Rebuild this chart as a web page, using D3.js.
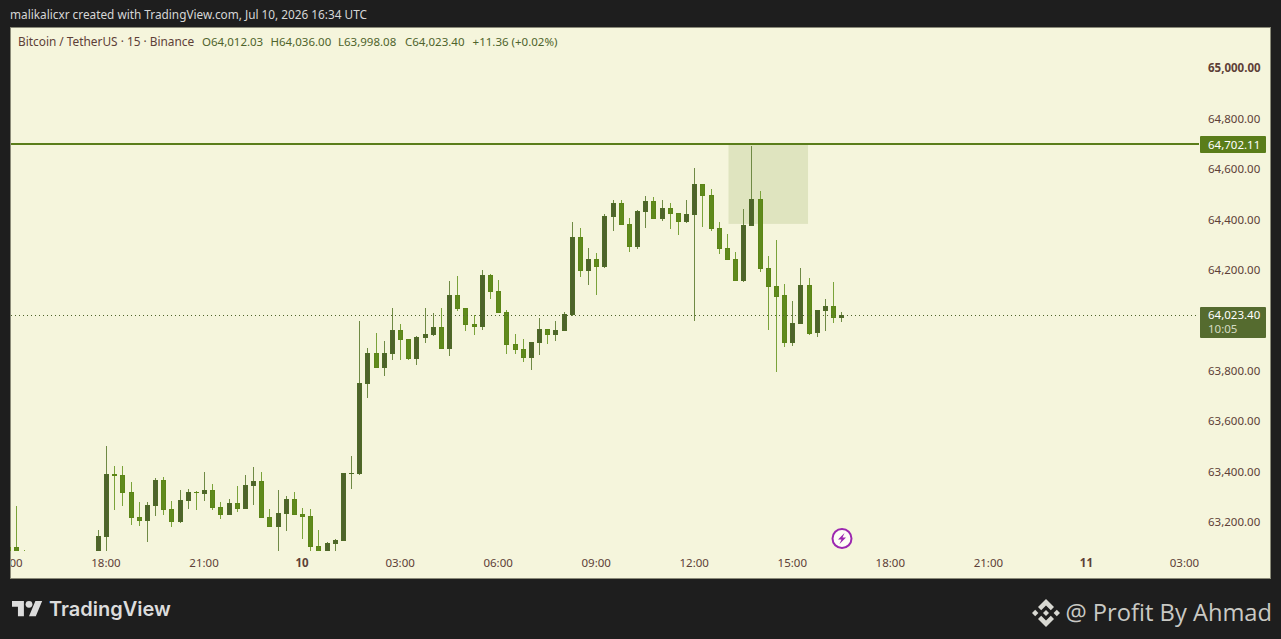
<!DOCTYPE html>
<html>
<head>
<meta charset="utf-8">
<title>BTCUSDT 15m</title>
<script src="https://cdn.jsdelivr.net/npm/d3@7"></script>
<style>
html, body { margin: 0; padding: 0; background: #1e1e1e; overflow: hidden; }
svg { display: block; }
text { font-family: "Noto Sans", sans-serif; }
</style>
</head>
<body>
<svg></svg>
<script>
// 15 minute bars from Jul 9 15:00 UTC. Bars 3-10 sit below the visible pane, so they stay null.
var opens = [63104,63104,63070,null,null,null,null,null,null,null,null,63080,63143,63393,63389,63322,63223,63207,63266,63369,
    63254,63203,63286,63322,63314,63330,63262,63231,63278,63254,63346,63366,63223,63183,63235,63294,63235,63227,63108,63080,
    63115,63127,63393,63393,63750,63874,63814,63870,63965,63929,63850,63933,63945,63977,63889,64104,64052,63989,63977,64183,
    64120,64036,63909,63889,63854,63913,63969,63945,63961,64024,64334,64199,64247,64215,64413,64469,64386,64294,64433,64477,
    64405,64449,64429,64394,64421,64544,64501,64370,64290,64247,64159,64378,64485,64211,64140,64104,63913,63989,64143,63953,
    64040,64060,64012.03];
var highs = [63104,63266,63092,null,null,null,null,null,null,null,null,63171,63504,63425,63425,63362,63282,63282,63377,63381,
    63286,63330,63334,63326,63401,63354,63282,63294,63346,63389,63421,63401,63254,63330,63306,63322,63258,63254,63171,63123,
    63135,63397,63465,64001,63893,63953,63921,64052,63989,63929,63941,64052,64032,64052,64159,64179,64052,64024,64203,64187,
    64163,64044,63949,63929,63917,64012,63969,64001,64036,64394,64370,64290,64271,64425,64481,64481,64409,64441,64497,64493,
    64481,64469,64429,64481,64608,64544,64525,64394,64346,64274,64445,64695,64517,64259,64322,64147,64080,64211,64171,64044,
    64088,64155,64036];
var lows = [63070,63052,63020,null,null,null,null,null,null,null,null,63068,63080,63250,63266,63191,63187,63123,63227,63231,
    63183,63199,63254,63250,63286,63250,63215,63231,63243,63254,63270,63219,63183,63088,63167,63231,63135,63080,63068,63072,
    63088,63127,63334,63389,63695,63814,63782,63846,63846,63846,63826,63913,63941,63889,63862,64040,63961,63945,63965,64088,
    64032,63870,63870,63838,63806,63866,63909,63921,63961,64020,64175,64144,64104,64211,64358,64382,64275,64286,64370,64405,
    64397,64366,64342,64390,64001,64374,64358,64267,64243,64159,64155,64378,64195,63965,63798,63897,63901,63989,63945,63937,
    63961,63993,63998.08];
var closes = [63080,63080,63040,null,null,null,null,null,null,null,null,63147,63393,63385,63318,63219,63207,63270,63369,63250,
    63203,63290,63322,63318,63330,63258,63231,63278,63254,63350,63366,63219,63183,63239,63294,63231,63223,63104,63080,63119,
    63131,63397,63397,63755,63874,63814,63874,63965,63925,63850,63937,63949,63977,63889,64104,64048,63985,63977,64183,64116,
    64032,63905,63886,63854,63917,63969,63945,63965,64028,64334,64199,64247,64215,64417,64469,64382,64294,64437,64477,64405,
    64449,64425,64394,64425,64544,64497,64366,64286,64243,64159,64382,64485,64207,64136,64096,63913,63993,64143,63949,64044,
    64060,64012,64023.40];

var priceTicks = [65000, 64800, 64600, 64400, 64200, 63800, 63600, 63400, 63200];
var timeTicks = ["2026-07-09T15:00Z","2026-07-09T18:00Z","2026-07-09T21:00Z","2026-07-10T00:00Z","2026-07-10T03:00Z",
    "2026-07-10T06:00Z","2026-07-10T09:00Z","2026-07-10T12:00Z","2026-07-10T15:00Z","2026-07-10T18:00Z",
    "2026-07-10T21:00Z","2026-07-11T00:00Z","2026-07-11T03:00Z"];
var timeLabels = ["15:00","18:00","21:00","10","03:00","06:00","09:00","12:00","15:00","18:00","21:00","11","03:00"];

var levelPrice = 64702.11;
var lastPrice = 64023.40;
var zoneTimes = ["2026-07-10T13:02Z", "2026-07-10T15:28Z"];
var zonePrices = [64702.11, 64386];

var legendLabels = ["Bitcoin / TetherUS · 15 · Binance", "O64,012.03", "H64,036.00", "L63,998.08", "C64,023.40", "+11.36 (+0.02%)"];
var legendColors = ["#5d4037", "#4e632b", "#4e632b", "#4e632b", "#4e632b", "#4e632b"];
var legendX = [18, 202, 270.5, 338, 405, 472.6];

var width = 1281, height = 639;
var upColor = "#4e632b", downColor = "#5f8a1c";
var upWick = "#6f8a45", downWick = "#7aa33a";

var svg = d3.select("svg")
    .attr("width", width)
    .attr("height", height);

var bars = opens.map(function (o, i) {
    return {
        time: new Date(Date.UTC(2026, 6, 9, 15, 15 * i)),
        open: o, high: highs[i], low: lows[i], close: closes[i]
    };
}).filter(function (d) { return d.open !== null; });

// one bar is 8.17px, 18:00 falls on pixel 106
var xScale = d3.scaleUtc()
    .domain([new Date("2026-07-09T18:00Z"), new Date("2026-07-11T03:00Z")])
    .range([106.5, 106.5 + 132 * 8.17]);

var yScale = d3.scaleLinear()
    .domain([65000, 63200])
    .range([69.2, 69.2 + 1800 * 0.25195]);

function px(t) { return Math.floor(xScale(t)) + 0.5; }

// pane
svg.append("rect")
    .attr("x", 10.5).attr("y", 27.5)
    .attr("width", 1260).attr("height", 551)
    .attr("fill", "#f5f5dc")
    .attr("stroke", "#8a8a78");

svg.append("clipPath").attr("id", "priceClip")
    .append("rect")
    .attr("x", 10).attr("y", 28)
    .attr("width", 1189).attr("height", 523);

svg.append("clipPath").attr("id", "axisClip")
    .append("rect")
    .attr("x", 11).attr("y", 552)
    .attr("width", 1259).attr("height", 26);

// zone
svg.append("rect")
    .attr("x", xScale(new Date(zoneTimes[0])))
    .attr("y", yScale(zonePrices[0]))
    .attr("width", xScale(new Date(zoneTimes[1])) - xScale(new Date(zoneTimes[0])))
    .attr("height", yScale(zonePrices[1]) - yScale(zonePrices[0]))
    .attr("fill", "#dfe4bf");

// candles
var candles = svg.append("g").attr("clip-path", "url(#priceClip)")
    .selectAll("g")
    .data(bars)
    .enter()
    .append("g");

candles.append("line")
    .attr("x1", function (d) { return px(d.time); })
    .attr("x2", function (d) { return px(d.time); })
    .attr("y1", function (d) { return Math.round(yScale(d.high)); })
    .attr("y2", function (d) { return Math.round(yScale(d.low)); })
    .attr("stroke", function (d) { return d.close >= d.open ? upWick : downWick; });

candles.append("rect")
    .attr("x", function (d) { return px(d.time) - 2; })
    .attr("width", 4)
    .attr("y", function (d) { return Math.round(yScale(Math.max(d.open, d.close))) + 0.5; })
    .attr("height", function (d) {
        return Math.max(Math.round(yScale(Math.min(d.open, d.close))) - Math.round(yScale(Math.max(d.open, d.close))) - 1, 0.01);
    })
    .attr("fill", function (d) { return d.close >= d.open ? upColor : downColor; })
    .attr("stroke", function (d) { return d.close >= d.open ? "#4e6a27" : "#5c8517"; });

// levels
svg.append("line")
    .attr("x1", 11).attr("x2", 1199)
    .attr("y1", Math.round(yScale(levelPrice))).attr("y2", Math.round(yScale(levelPrice)))
    .attr("stroke", "#5a7d1a")
    .attr("stroke-width", 2);

svg.append("line")
    .attr("x1", 11).attr("x2", 1199)
    .attr("y1", Math.floor(yScale(lastPrice)) + 0.5).attr("y2", Math.floor(yScale(lastPrice)) + 0.5)
    .attr("stroke", "#4e632b")
    .attr("stroke-dasharray", "1 3");

// price axis
var yAxis = d3.axisRight(yScale)
    .tickValues(priceTicks)
    .tickSize(0)
    .tickPadding(0)
    .tickFormat(d3.format(",.2f"));

var yAxisG = svg.append("g")
    .attr("transform", "translate(1208,-1)")
    .call(yAxis);
yAxisG.select(".domain").remove();
yAxisG.selectAll("text")
    .attr("fill", "#5d4037")
    .attr("font-size", 11.5)
    .style("font-family", "'Noto Sans', sans-serif")
    .attr("font-weight", function (d) { return d === 65000 ? 700 : 400; });

// time axis
var xAxis = d3.axisBottom(xScale)
    .tickValues(timeTicks.map(function (d) { return new Date(d); }))
    .tickSize(0)
    .tickPadding(0)
    .tickFormat(function (d, i) { return timeLabels[i]; });

var xAxisG = svg.append("g").attr("clip-path", "url(#axisClip)")
    .append("g")
    .attr("transform", "translate(-1,559)")
    .call(xAxis);
xAxisG.select(".domain").remove();
xAxisG.selectAll("text")
    .attr("fill", "#5d4037")
    .attr("font-size", 11.5)
    .style("font-family", "'Noto Sans', sans-serif")
    .attr("font-weight", function (d, i) { return timeLabels[i].length === 2 ? 700 : 400; });

// price labels
svg.append("rect").attr("x", 1200).attr("y", 136).attr("width", 66).attr("height", 17).attr("rx", 1).attr("fill", "#5a7d1a");
svg.append("text").attr("x", 1208).attr("y", 148.5).attr("fill", "#fff").attr("font-size", 11.5).text(d3.format(",.2f")(levelPrice));

svg.append("rect").attr("x", 1200).attr("y", 307).attr("width", 66).attr("height", 31).attr("rx", 1).attr("fill", "#556b2f");
svg.append("text").attr("x", 1208).attr("y", 318.5).attr("fill", "#fff").attr("font-size", 11.5).text(d3.format(",.2f")(lastPrice));
svg.append("text").attr("x", 1208).attr("y", 332.5).attr("fill", "#d5dcc4").attr("font-size", 11.5).text("10:05");

// legend
svg.selectAll(".legend")
    .data(legendLabels)
    .enter()
    .append("text")
    .attr("class", "legend")
    .attr("x", function (d, i) { return legendX[i]; })
    .attr("y", 45.5)
    .attr("font-size", function (d, i) { return i === 0 ? 11.85 : 11.5; })
    .attr("fill", function (d, i) { return legendColors[i]; })
    .text(function (d) { return d; });

svg.append("text")
    .attr("x", 10).attr("y", 19)
    .attr("font-size", 11.8)
    .attr("fill", "#d6d6d6")
    .text("malikalicxr created with TradingView.com, Jul 10, 2026 16:34 UTC");

// event marker
svg.append("circle")
    .attr("cx", 842).attr("cy", 538.5).attr("r", 9.5)
    .attr("fill", "#fdfdf6").attr("stroke", "#9c27b0").attr("stroke-width", 2);
svg.append("path")
    .attr("transform", "translate(842,538.5)")
    .attr("d", "M2.5,-5.5L-4,1H-0.5L-2.5,5.5L4,-1H0.5Z")
    .attr("fill", "#9c27b0");

// TradingView mark
svg.append("g")
    .attr("transform", "translate(12,597.5) scale(0.85)")
    .attr("fill", "#dcdcdc")
    .call(function (g) {
        g.append("path").attr("d", "M14 22H7V11H0V4h14v18zM28 22h-8l7.5-18h8L28 22z");
        g.append("circle").attr("cx", 20).attr("cy", 8).attr("r", 4);
    });
svg.append("text")
    .attr("x", 49).attr("y", 616)
    .attr("font-size", 20)
    .attr("font-weight", 600)
    .style("font-family", "Inter, sans-serif")
    .attr("fill", "#dcdcdc")
    .text("TradingView");

// exchange mark
svg.append("g")
    .attr("transform", "translate(1046,613)")
    .attr("fill", "#d8d8d2")
    .selectAll("path")
    .data([
        "M0,-14L8,-6L4.8,-2.8L0,-7.6L-4.8,-2.8L-8,-6Z",
        "M0,14L8,6L4.8,2.8L0,7.6L-4.8,2.8L-8,6Z",
        "M-14,0L-10.8,-3.2L-7.6,0L-10.8,3.2Z",
        "M14,0L10.8,-3.2L7.6,0L10.8,3.2Z",
        "M0,-3L3,0L0,3L-3,0Z"
    ])
    .enter()
    .append("path")
    .attr("d", function (d) { return d; });

svg.append("text")
    .attr("x", 1272).attr("y", 621)
    .attr("text-anchor", "end")
    .attr("font-size", 23.7)
    .style("font-family", "'Open Sans', sans-serif")
    .attr("fill", "#c9c9c4")
    .text("@ Profit By Ahmad");
</script>
</body>
</html>
